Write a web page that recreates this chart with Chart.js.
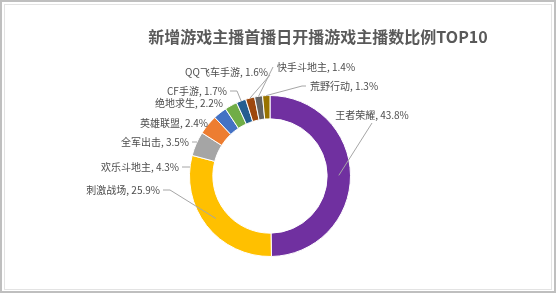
<!DOCTYPE html>
<html>
<head>
<meta charset="utf-8">
<script src="https://cdn.jsdelivr.net/npm/chart.js@4/dist/chart.umd.min.js"></script>
<style>
  html, body { margin: 0; padding: 0; background: #fff; }
  #wrap { width: 556px; height: 293px; position: relative; }
</style>
</head>
<body>
<div id="wrap"><canvas id="chart" width="556" height="293"></canvas></div>
<script>
// data
const titleText = '新增游戏主播首播日开播游戏主播数比例TOP10';
const categories = ['王者荣耀', '刺激战场', '欢乐斗地主', '全军出击', '英雄联盟', '绝地求生', 'CF手游', 'QQ飞车手游', '快手斗地主', '荒野行动'];
const shares = [43.8, 25.9, 4.3, 3.5, 2.4, 2.2, 1.7, 1.6, 1.4, 1.3];
const sliceColors = ['#7030A0', '#FFC000', '#A5A5A5', '#ED7D31', '#4472C4', '#70AD47', '#255E91', '#9E480E', '#636363', '#997300'];

// where each data label sits, relative to the doughnut centre (px)
const labelLayout = [
    { dx: 102, dy: -61, align: 'center', from: [0, 8], to: 'mid' },
    { dx: -110, dy: 14, align: 'right', from: [3, 0], elbow: 7, to: 'mid' },
    { dx: -91, dy: -9, align: 'right', from: [3, 0], to: 'edge' },
    { dx: -81, dy: -34, align: 'right', from: [3, 0], to: 'edge' },
    { dx: -62, dy: -53, align: 'right' },
    { dx: -47, dy: -72.5, align: 'right' },
    { dx: -43, dy: -85, align: 'right', from: [3, 0], elbow: 7, to: 'outer' },
    { dx: -2, dy: -104, align: 'right', from: [2, 3], to: 'outer' },
    { dx: 7, dy: -109, align: 'left', from: [-4, 0], to: 'outer' },
    { dx: 40, dy: -90, align: 'left', from: [-4, 0], elbow: 4, to: 'outer' }
];

const frameAndTitle = {
    id: 'frameAndTitle',
    beforeDraw(chart) {
        const c = chart.ctx;
        c.save();
        c.fillStyle = '#fff';
        c.fillRect(0, 0, chart.width, chart.height);
        c.strokeStyle = '#BFBFBF';
        c.lineWidth = 2;
        c.strokeRect(1, 1, chart.width - 2, chart.height - 2);
        c.strokeStyle = '#E3E3E3';
        c.lineWidth = 1;
        c.strokeRect(4.5, 4.5, chart.width - 9, chart.height - 8);
        c.restore();
    },
    afterDraw(chart) {
        const c = chart.ctx;
        c.save();
        c.font = 'bold 16px "Noto Sans CJK SC", "Noto Sans", sans-serif';
        c.fillStyle = '#595959';
        c.textAlign = 'center';
        c.textBaseline = 'middle';
        c.fillText(titleText, 318, 37);
        c.restore();
    }
};

const sliceLabels = {
    id: 'sliceLabels',
    afterDraw(chart) {
        const c = chart.ctx;
        const arcs = chart.getDatasetMeta(0).data;
        c.save();
        c.font = '10px "Noto Sans CJK SC", "Noto Sans", sans-serif';
        c.textBaseline = 'middle';
        arcs.forEach((arc, i) => {
            const p = arc.getProps(['x', 'y', 'startAngle', 'endAngle', 'innerRadius', 'outerRadius'], true);
            const L = labelLayout[i];
            const tx = p.x + L.dx, ty = p.y + L.dy;
            const text = categories[i] + ', ' + shares[i] + '%';

            if (L.to) {
                let sx = tx + L.from[0];
                const sy = ty + L.from[1];
                const mid = (p.startAngle + p.endAngle) / 2;
                let ex, ey;
                if (L.to === 'edge') {
                    // straight across to the ring's outer edge
                    ey = sy;
                    const dy = ey - p.y;
                    ex = p.x - Math.sqrt(p.outerRadius * p.outerRadius - dy * dy);
                } else {
                    const r = L.to === 'mid' ? (p.innerRadius + p.outerRadius) / 2 : p.outerRadius;
                    ex = p.x + Math.cos(mid) * r;
                    ey = p.y + Math.sin(mid) * r;
                }
                c.strokeStyle = '#A6A6A6';
                c.lineWidth = 1;
                c.beginPath();
                c.moveTo(sx, sy);
                if (L.elbow) {
                    sx += (ex > sx ? 1 : -1) * L.elbow;
                    c.lineTo(sx, sy);
                }
                c.lineTo(ex, ey);
                c.stroke();
            }

            c.fillStyle = '#4D4D4D';
            c.textAlign = L.align;
            c.fillText(text, tx, ty);
        });
        c.restore();
    }
};

new Chart(document.getElementById('chart'), {
    type: 'doughnut',
    data: {
        labels: categories,
        datasets: [{
            data: shares,
            backgroundColor: sliceColors,
            borderColor: '#ffffff',
            borderWidth: 1
        }]
    },
    options: {
        responsive: false,
        animation: false,
        cutout: '71%',
        layout: { padding: { left: 189, right: 205, top: 95, bottom: 36 } },
        plugins: {
            legend: { display: false },
            tooltip: { enabled: false },
            title: { display: false }
        }
    },
    plugins: [frameAndTitle, sliceLabels]
});
</script>
</body>
</html>
